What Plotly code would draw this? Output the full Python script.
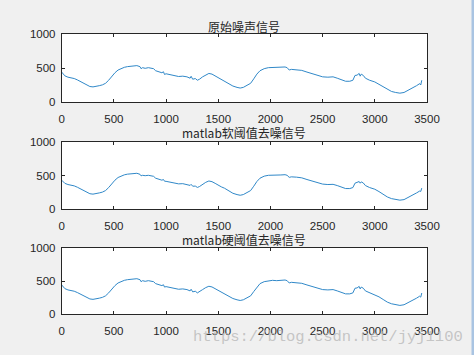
import plotly.graph_objects as go

# sample index positions
x_pts = [0, 15, 30, 60, 90, 120, 150, 180, 210, 240, 270, 300, 330, 360, 390, 420, 450, 480,
         510, 540, 570, 600, 630, 660, 690, 720, 750, 760, 775, 800, 830, 860, 880, 900, 930,
         960, 975, 985, 1000, 1040, 1080, 1120, 1160, 1200, 1230, 1240, 1255, 1280, 1300,
         1320, 1350, 1380, 1410, 1440, 1470, 1500, 1530, 1560, 1600, 1640, 1680, 1710, 1740,
         1780, 1810, 1840, 1870, 1900, 1940, 1980, 2020, 2060, 2100, 2140, 2160, 2180, 2200,
         2250, 2300, 2350, 2400, 2450, 2500, 2550, 2600, 2640, 2680, 2720, 2760, 2790, 2810,
         2830, 2850, 2860, 2870, 2890, 2910, 2950, 3000, 3040, 3080, 3120, 3160, 3200, 3240,
         3280, 3320, 3360, 3400, 3430, 3440, 3450]

y_original = [440, 410, 385, 365, 358, 345, 325, 300, 275, 250, 228, 222, 228, 240, 252, 275,
              320, 380, 430, 470, 495, 510, 520, 525, 540, 535, 520, 490, 505, 495, 505, 500,
              490, 460, 445, 430, 445, 405, 415, 400, 385, 375, 380, 370, 350, 378, 335, 345,
              320, 335, 370, 400, 420, 410, 385, 350, 330, 310, 270, 235, 215, 205, 215, 245,
              275, 340, 410, 460, 490, 505, 510, 505, 510, 515, 505, 470, 480, 475, 465, 440,
              415, 390, 370, 365, 370, 350, 325, 305, 305, 320, 390, 395, 420, 380, 410, 390,
              350, 320, 295, 260, 220, 180, 155, 140, 130, 140, 170, 200, 240, 270, 250, 320]

y_soft = [430, 405, 383, 365, 357, 345, 325, 300, 275, 250, 228, 222, 228, 240, 252, 275,
          320, 380, 430, 470, 495, 510, 520, 525, 538, 533, 518, 495, 503, 497, 503, 498,
          488, 460, 445, 430, 440, 415, 413, 400, 385, 375, 378, 368, 352, 368, 340, 342,
          322, 335, 368, 398, 418, 408, 383, 350, 330, 310, 270, 235, 215, 205, 215, 245,
          275, 340, 410, 460, 490, 503, 508, 505, 508, 512, 503, 472, 480, 475, 465, 440,
          415, 390, 372, 365, 368, 350, 325, 305, 305, 320, 385, 392, 410, 385, 405, 388,
          350, 320, 295, 260, 220, 180, 155, 140, 132, 140, 170, 200, 240, 268, 262, 312]

y_hard = [440, 408, 385, 365, 358, 345, 325, 300, 275, 250, 228, 222, 228, 240, 252, 275,
          320, 380, 430, 470, 495, 510, 520, 525, 540, 535, 520, 490, 505, 495, 505, 500,
          490, 460, 445, 430, 443, 408, 415, 400, 385, 375, 380, 370, 350, 375, 335, 345,
          320, 335, 370, 400, 420, 410, 385, 350, 330, 310, 270, 235, 215, 205, 215, 245,
          275, 340, 410, 460, 490, 505, 510, 505, 510, 515, 505, 470, 480, 475, 465, 440,
          415, 390, 370, 365, 370, 350, 325, 305, 305, 320, 390, 395, 418, 380, 408, 390,
          350, 320, 295, 260, 220, 180, 155, 140, 130, 140, 170, 200, 240, 270, 255, 318]

titles = ["原始噪声信号", "matlab软阈值去噪信号", "matlab硬阈值去噪信号"]
x_ticks = [0, 500, 1000, 1500, 2000, 2500, 3000, 3500]
y_ticks = [0, 500, 1000]

W, H = 474, 355
xl, xr = 61.7 / W, 427 / W
panels = [(34, 102), (142, 209), (248, 314)]
title_y = [26, 133, 239]

fig = go.Figure()
series = [y_original, y_soft, y_hard]
for i, ys in enumerate(series):
    n = "" if i == 0 else str(i + 1)
    fig.add_trace(go.Scatter(x=x_pts, y=ys, mode="lines",
                             line=dict(color="#3088c8", width=1),
                             xaxis="x" + n, yaxis="y" + n, showlegend=False,
                             hoverinfo="skip"))
    top, bot = panels[i]
    axcommon = dict(showline=True, linecolor="#262626", linewidth=0.8, mirror="ticks",
                    ticks="inside", ticklen=3, tickcolor="#262626", showgrid=False,
                    zeroline=False, automargin=False,
                    tickfont=dict(family="Liberation Sans, Arial", size=11.5, color="#262626"))
    fig.update_layout(**{
        "xaxis" + n: dict(domain=[xl, xr], range=[0, 3500], tickvals=x_ticks,
                          anchor="y" + n, ticklabelstandoff=6, **axcommon),
        "yaxis" + n: dict(domain=[1 - bot / H, 1 - top / H], range=[0, 1000],
                          tickvals=y_ticks, anchor="x" + n, ticklabelstandoff=3, **axcommon),
    })
    fig.add_annotation(x=(xl + xr) / 2, y=1 - title_y[i] / H, xref="paper", yref="paper",
                       text=titles[i], showarrow=False, xanchor="center", yanchor="middle",
                       font=dict(family="Noto Sans CJK SC", size=12, color="#262626"))

fig.add_annotation(x=328 / W, y=1 - 337 / H, xref="paper", yref="paper",
                   text="https://blog.csdn.net/jyj1100", showarrow=False,
                   xanchor="center", yanchor="middle",
                   font=dict(family="Liberation Mono", size=15.5, color="rgba(185,185,185,0.8)"))

fig.add_shape(type="rect", xref="paper", yref="paper", x0=471.5 / W, x1=1, y0=0, y1=1,
              fillcolor="#a9c4e2", line=dict(width=0), layer="above")

fig.update_layout(width=W, height=H, margin=dict(l=0, r=0, t=0, b=0),
                  paper_bgcolor="#f0f0f0", plot_bgcolor="#ffffff")

fig.write_html("out.html", config={"displayModeBar": False},
               post_script="document.body.style.margin='0';")
